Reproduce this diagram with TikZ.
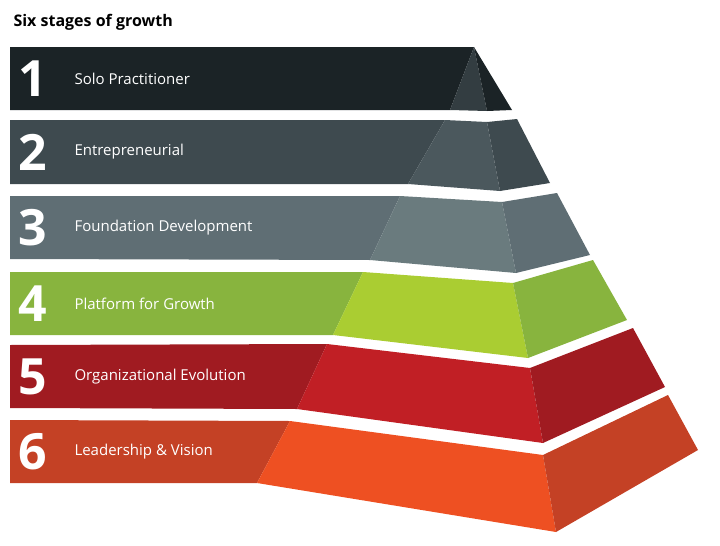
\documentclass[tikz,border=0pt]{standalone}
\usepackage{fontspec}
\setmainfont{Open Sans}
\definecolor{ban1}{HTML}{1B2326}\definecolor{frt1}{HTML}{333D41}
\definecolor{ban2}{HTML}{3E4A4F}\definecolor{frt2}{HTML}{4B585D}
\definecolor{ban3}{HTML}{5F6E74}\definecolor{frt3}{HTML}{6A7B7E}
\definecolor{ban4}{HTML}{88B43E}\definecolor{frt4}{HTML}{AACD32}
\definecolor{ban5}{HTML}{A01B21}\definecolor{frt5}{HTML}{C11F25}
\definecolor{ban6}{HTML}{C44125}\definecolor{frt6}{HTML}{EE5022}
\tikzset{
  num/.style={text=white,font=\fontsize{50}{50}\selectfont\bfseries,anchor=center},
  lab/.style={text=white,font=\fontsize{15}{15}\selectfont,anchor=west},
}
\begin{document}
\begin{tikzpicture}[x=1pt,y=-1pt]
\useasboundingbox (0,0) rectangle (720,546);
\node (title) at (10,22) [anchor=west,font=\fontsize{16}{16}\selectfont\bfseries] {Six stages of growth};

\foreach \i/\txt/\yt/\yb/\tl/\tm/\tr/\bl/\bm/\br in {
  1/Solo Practitioner/47/110/{(474,47)}/{(474,47)}/{(474,47)}/{(450,110)}/{(487,111)}/{(512,110)},
  2/Entrepreneurial/120/184/{(445,120)}/{(487,122)}/{(517,119)}/{(408,184)}/{(500,191)}/{(550,183)},
  3/Foundation Development/196/259/{(400,196)}/{(502,202)}/{(557,193)}/{(370,260)}/{(516,273)}/{(590,255)},
  4/Platform for Growth/272/335/{(363,272)}/{(513,283)}/{(593,260)}/{(333,335)}/{(528,358)}/{(627,320)},
  5/Organizational Evolution/345/408/{(327,344)}/{(530,368)}/{(633,328)}/{(297,409)}/{(543,443)}/{(665,387)},
  6/Leadership \& Vision/420/483/{(290,421)}/{(543,455)}/{(668,395)}/{(257,483)}/{(556,532)}/{(698,450)}}
{
  \fill[ban\i] (10,\yt) -- \tl -- \bl -- (10,\yb) -- cycle;
  \fill[frt\i] \tl -- \tm -- \bm -- \bl -- cycle;
  \fill[ban\i] \tm -- \tr -- \br -- \bm -- cycle;
  \node (n\i) at (33,{(\yt+\yb)/2}) [num] {\i};
  \node (l\i) at (71,{(\yt+\yb)/2}) [lab] {\txt};
}
\end{tikzpicture}
\end{document}
